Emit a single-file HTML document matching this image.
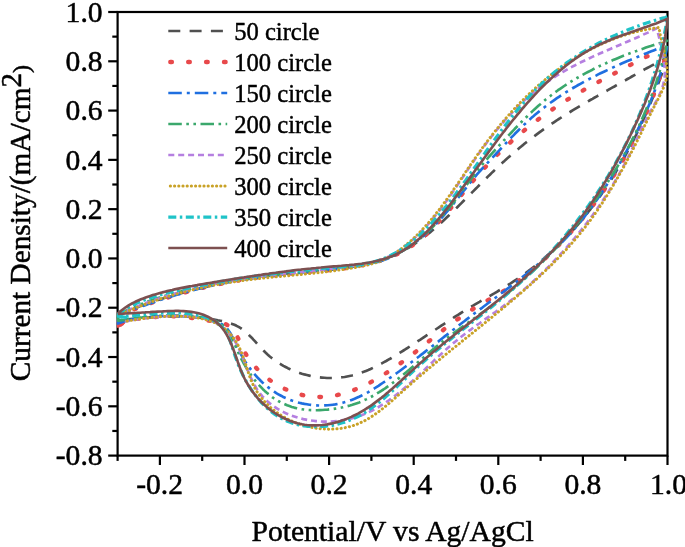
<!DOCTYPE html>
<html lang="en">
<head>
<meta charset="utf-8">
<title>CV curves</title>
<style>
html,body{margin:0;padding:0;background:#fff;}
body{width:685px;height:547px;overflow:hidden;font-family:"Liberation Serif",serif;}
svg{display:block;}
</style>
</head>
<body>
<svg width="685" height="547" viewBox="0 0 685 547">
<rect width="685" height="547" fill="#fff"/>
<defs><clipPath id="pc"><rect x="116.6" y="11.0" width="552.1999999999999" height="445.8"/></clipPath></defs>
<g stroke="#000" stroke-width="2.2" fill="none" stroke-linecap="butt">
<rect x="117.6" y="12.0" width="549.90" height="443.60"/>
<path d="M117.6 12.00h-9.4"/>
<path d="M117.6 36.64h-5.300000000000001"/>
<path d="M117.6 61.29h-9.4"/>
<path d="M117.6 85.93h-5.300000000000001"/>
<path d="M117.6 110.58h-9.4"/>
<path d="M117.6 135.22h-5.300000000000001"/>
<path d="M117.6 159.87h-9.4"/>
<path d="M117.6 184.51h-5.300000000000001"/>
<path d="M117.6 209.16h-9.4"/>
<path d="M117.6 233.80h-5.300000000000001"/>
<path d="M117.6 258.44h-9.4"/>
<path d="M117.6 283.09h-5.300000000000001"/>
<path d="M117.6 307.73h-9.4"/>
<path d="M117.6 332.38h-5.300000000000001"/>
<path d="M117.6 357.02h-9.4"/>
<path d="M117.6 381.67h-5.300000000000001"/>
<path d="M117.6 406.31h-9.4"/>
<path d="M117.6 430.96h-5.300000000000001"/>
<path d="M117.6 455.60h-9.4"/>
<path d="M117.60 455.6v5.300000000000001"/>
<path d="M159.90 455.6v9.4"/>
<path d="M202.20 455.6v5.300000000000001"/>
<path d="M244.50 455.6v9.4"/>
<path d="M286.80 455.6v5.300000000000001"/>
<path d="M329.10 455.6v9.4"/>
<path d="M371.40 455.6v5.300000000000001"/>
<path d="M413.70 455.6v9.4"/>
<path d="M456.00 455.6v5.300000000000001"/>
<path d="M498.30 455.6v9.4"/>
<path d="M540.60 455.6v5.300000000000001"/>
<path d="M582.90 455.6v9.4"/>
<path d="M625.20 455.6v5.300000000000001"/>
<path d="M667.50 455.6v9.4"/>
</g>
<g fill="none" stroke-linejoin="round" clip-path="url(#pc)">
<path d="M117.8 314.5L120.1 313.6L122.5 312.7L124.8 311.8L127.2 310.9L129.5 310.0L131.9 309.1L134.2 308.2L136.6 307.4L139.0 306.5L141.3 305.7L143.7 304.9L146.1 304.0L148.5 303.2L150.8 302.4L153.2 301.6L155.6 300.8L158.0 300.1L160.4 299.3L162.8 298.6L165.2 297.8L167.6 297.1L170.0 296.4L172.4 295.6L174.8 294.9L177.2 294.2L179.6 293.6L182.0 292.9L184.5 292.2L186.9 291.6L189.3 290.9L191.7 290.3L194.2 289.7L196.6 289.0L199.1 288.4L201.5 287.8L203.9 287.3L206.4 286.7L208.8 286.1L211.3 285.6L213.7 285.0L216.2 284.5L218.6 284.0L221.1 283.4L223.6 282.9L226.0 282.4L228.5 282.0L231.0 281.5L233.4 281.0L235.9 280.6L238.4 280.1L240.8 279.7L243.3 279.3L245.8 278.9L248.3 278.5L250.8 278.1L253.3 277.7L255.8 277.3L258.2 277.0L260.7 276.6L263.2 276.3L265.7 276.0L268.2 275.6L270.7 275.3L273.2 275.0L275.7 274.7L278.2 274.5L280.8 274.2L283.3 274.0L285.8 273.7L288.3 273.5L290.8 273.2L293.3 273.0L295.8 272.8L298.3 272.6L300.9 272.4L303.4 272.2L305.9 272.0L308.4 271.8L310.9 271.5L313.4 271.3L316.0 271.1L318.5 270.9L321.0 270.7L323.5 270.4L326.0 270.2L328.5 269.9L331.0 269.7L333.5 269.4L336.0 269.1L338.5 268.8L341.0 268.5L343.5 268.2L346.0 267.8L348.5 267.5L350.9 267.1L353.4 266.7L355.9 266.3L358.4 265.8L360.8 265.4L363.3 264.9L365.7 264.3L368.2 263.8L370.6 263.2L373.0 262.6L375.5 261.9L377.9 261.3L380.3 260.5L382.6 259.7L385.0 258.9L387.3 258.0L389.6 257.1L392.0 256.2L394.2 255.2L396.5 254.1L398.8 253.0L401.0 251.9L403.2 250.7L405.4 249.5L407.5 248.3L409.7 247.0L411.8 245.7L413.9 244.3L416.0 242.9L418.0 241.5L420.0 240.1L422.1 238.6L424.1 237.1L426.0 235.5L428.0 234.0L430.0 232.4L431.9 230.8L433.8 229.1L435.7 227.5L437.6 225.8L439.5 224.1L441.4 222.4L443.3 220.7L445.1 219.0L446.9 217.3L448.8 215.5L450.6 213.8L452.4 212.0L454.2 210.2L456.0 208.5L457.8 206.7L459.6 204.9L461.4 203.1L463.2 201.3L465.0 199.5L466.8 197.8L468.6 196.0L470.3 194.2L472.1 192.4L473.9 190.6L475.7 188.8L477.4 187.1L479.2 185.3L481.0 183.5L482.8 181.7L484.6 180.0L486.3 178.2L488.1 176.4L489.9 174.7L491.7 172.9L493.5 171.2L495.3 169.5L497.1 167.7L499.0 166.0L500.8 164.3L502.6 162.6L504.5 160.9L506.3 159.2L508.2 157.6L510.1 155.9L511.9 154.2L513.8 152.6L515.7 151.0L517.7 149.4L519.6 147.8L521.5 146.2L523.5 144.6L525.4 143.0L527.4 141.5L529.4 139.9L531.4 138.4L533.4 136.9L535.4 135.4L537.4 133.9L539.4 132.4L541.5 130.9L543.5 129.4L545.6 128.0L547.6 126.6L549.7 125.1L551.8 123.7L553.9 122.3L556.0 120.9L558.1 119.5L560.2 118.2L562.3 116.8L564.4 115.5L566.5 114.1L568.7 112.8L570.8 111.5L573.0 110.2L575.1 108.9L577.3 107.6L579.4 106.3L581.6 105.0L583.8 103.8L586.0 102.5L588.1 101.3L590.3 100.0L592.5 98.8L594.7 97.5L596.9 96.3L599.1 95.1L601.2 93.8L603.4 92.6L605.6 91.4L607.8 90.2L610.0 88.9L612.2 87.7L614.4 86.5L616.6 85.2L618.8 84.0L621.0 82.8L623.1 81.5L625.3 80.3L627.5 79.0L629.7 77.8L631.9 76.5L634.0 75.3L636.2 74.1L638.4 72.8L640.6 71.6L642.8 70.4L645.0 69.2L647.2 68.0L649.4 66.8L651.6 65.6L653.9 64.5L656.1 63.3L658.4 62.2L660.6 61.1L662.9 60.1L665.2 59.0L667.5 58.0L666.7 60.4L665.9 62.7L665.1 65.1L664.2 67.4L663.4 69.8L662.5 72.1L661.7 74.5L660.8 76.8L660.0 79.2L659.1 81.5L658.2 83.9L657.3 86.2L656.4 88.5L655.5 90.9L654.5 93.2L653.6 95.5L652.7 97.9L651.7 100.2L650.8 102.5L649.8 104.8L648.8 107.1L647.8 109.5L646.8 111.8L645.8 114.1L644.8 116.4L643.8 118.7L642.7 120.9L641.7 123.2L640.6 125.5L639.5 127.8L638.4 130.1L637.4 132.3L636.3 134.6L635.1 136.8L634.0 139.1L632.9 141.3L631.7 143.6L630.6 145.8L629.4 148.0L628.2 150.2L627.0 152.5L625.8 154.7L624.6 156.9L623.4 159.1L622.2 161.2L620.9 163.4L619.7 165.6L618.4 167.8L617.1 169.9L615.8 172.1L614.5 174.2L613.2 176.3L611.9 178.5L610.5 180.6L609.2 182.7L607.8 184.8L606.4 186.9L605.0 189.0L603.6 191.0L602.2 193.1L600.8 195.2L599.3 197.2L597.9 199.2L596.4 201.3L594.9 203.3L593.4 205.3L591.9 207.3L590.4 209.3L588.8 211.2L587.3 213.2L585.7 215.2L584.1 217.1L582.6 219.0L580.9 221.0L579.3 222.9L577.7 224.8L576.0 226.7L574.4 228.5L572.7 230.4L571.0 232.3L569.3 234.1L567.6 235.9L565.8 237.7L564.1 239.5L562.3 241.3L560.6 243.1L558.8 244.9L557.0 246.6L555.1 248.3L553.3 250.1L551.5 251.8L549.6 253.5L547.7 255.1L545.8 256.8L543.9 258.5L542.0 260.1L540.1 261.7L538.2 263.3L536.2 264.9L534.3 266.5L532.3 268.0L530.3 269.5L528.3 271.1L526.3 272.6L524.3 274.1L522.2 275.5L520.2 277.0L518.1 278.4L516.0 279.8L513.9 281.2L511.8 282.6L509.7 284.0L507.6 285.3L505.5 286.6L503.3 288.0L501.2 289.3L499.0 290.5L496.9 291.8L494.7 293.1L492.5 294.3L490.4 295.6L488.2 296.9L486.0 298.1L483.8 299.4L481.7 300.6L479.5 301.9L477.3 303.1L475.1 304.4L473.0 305.7L470.8 306.9L468.7 308.2L466.6 309.5L464.4 310.9L462.3 312.2L460.2 313.5L458.1 314.8L455.9 316.2L453.8 317.5L451.7 318.9L449.6 320.2L447.5 321.6L445.4 323.0L443.4 324.3L441.3 325.7L439.2 327.1L437.1 328.5L435.0 329.9L432.9 331.2L430.8 332.6L428.7 334.0L426.6 335.4L424.5 336.8L422.5 338.2L420.4 339.6L418.3 340.9L416.2 342.3L414.1 343.7L412.0 345.1L409.8 346.4L407.7 347.8L405.6 349.2L403.5 350.5L401.3 351.9L399.2 353.2L397.1 354.5L394.9 355.9L392.7 357.2L390.6 358.5L388.4 359.7L386.2 361.0L384.0 362.2L381.8 363.4L379.6 364.6L377.4 365.8L375.1 366.9L372.9 367.9L370.6 369.0L368.3 370.0L366.0 370.9L363.7 371.8L361.4 372.6L359.0 373.4L356.7 374.2L354.3 374.9L351.9 375.5L349.5 376.0L347.1 376.5L344.6 377.0L342.1 377.3L339.6 377.6L337.1 377.8L334.6 378.0L332.1 378.0L329.5 378.0L327.0 378.0L324.4 377.8L321.9 377.6L319.3 377.4L316.8 377.0L314.3 376.6L311.8 376.2L309.3 375.6L306.8 375.0L304.3 374.4L301.9 373.7L299.5 372.9L297.1 372.1L294.7 371.2L292.4 370.2L290.1 369.2L287.9 368.2L285.6 367.0L283.4 365.9L281.3 364.6L279.2 363.3L277.1 361.9L275.1 360.5L273.1 359.0L271.1 357.5L269.2 355.9L267.3 354.2L265.5 352.5L263.7 350.7L261.9 348.9L260.2 347.1L258.5 345.2L256.8 343.3L255.1 341.4L253.4 339.6L251.7 337.7L249.9 336.0L248.2 334.2L246.4 332.6L244.5 331.0L242.6 329.5L240.7 328.1L238.6 326.9L236.5 325.8L234.4 324.8L232.1 323.9L229.8 323.1L227.5 322.4L225.1 321.8L222.7 321.2L220.2 320.7L217.8 320.3L215.3 319.8L212.8 319.4L210.2 319.0L207.7 318.7L205.2 318.3L202.6 318.0L200.1 317.7L197.5 317.5L195.0 317.2L192.5 317.0L189.9 316.9L187.4 316.7L184.8 316.6L182.3 316.5L179.8 316.5L177.3 316.4L174.8 316.4L172.3 316.4L169.9 316.5L167.4 316.5L164.9 316.6L162.4 316.7L160.0 316.8L157.5 316.9L155.1 317.1L152.6 317.2L150.1 317.4L147.7 317.6L145.2 317.8L142.8 318.0L140.3 318.2L137.8 318.4L135.3 318.6L132.9 318.8L130.4 319.0L127.9 319.2L125.4 319.4L122.9 319.6L120.3 319.8L117.8 320.0L117.8 314.5" stroke="#505050" stroke-width="2.65" stroke-linecap="butt" stroke-dasharray="12 9.3"/>
<path d="M117.8 316.0L120.1 315.0L122.4 314.0L124.8 313.1L127.1 312.1L129.4 311.2L131.8 310.3L134.1 309.3L136.5 308.4L138.8 307.5L141.2 306.7L143.5 305.8L145.9 304.9L148.3 304.1L150.6 303.2L153.0 302.4L155.4 301.6L157.8 300.8L160.2 300.0L162.5 299.2L164.9 298.4L167.3 297.7L169.7 296.9L172.1 296.2L174.6 295.5L177.0 294.8L179.4 294.1L181.8 293.4L184.2 292.7L186.6 292.0L189.1 291.3L191.5 290.7L193.9 290.1L196.4 289.4L198.8 288.8L201.3 288.2L203.7 287.6L206.2 287.0L208.6 286.5L211.1 285.9L213.5 285.4L216.0 284.8L218.4 284.3L220.9 283.8L223.4 283.3L225.8 282.8L228.3 282.3L230.8 281.8L233.2 281.3L235.7 280.9L238.2 280.4L240.7 280.0L243.2 279.6L245.7 279.2L248.1 278.8L250.6 278.4L253.1 278.0L255.6 277.7L258.1 277.3L260.6 276.9L263.1 276.6L265.6 276.3L268.1 276.0L270.6 275.7L273.1 275.4L275.6 275.1L278.1 274.8L280.6 274.6L283.1 274.3L285.6 274.1L288.1 273.8L290.6 273.6L293.1 273.4L295.7 273.2L298.2 272.9L300.7 272.7L303.2 272.5L305.7 272.3L308.2 272.1L310.7 271.9L313.2 271.7L315.7 271.4L318.2 271.2L320.8 271.0L323.3 270.7L325.8 270.5L328.3 270.2L330.8 270.0L333.3 269.7L335.8 269.4L338.3 269.1L340.8 268.8L343.3 268.4L345.8 268.1L348.3 267.7L350.8 267.3L353.3 266.9L355.8 266.5L358.3 266.0L360.8 265.5L363.2 265.0L365.7 264.5L368.2 263.9L370.7 263.4L373.1 262.7L375.6 262.1L378.0 261.4L380.4 260.6L382.8 259.8L385.2 259.0L387.6 258.2L390.0 257.2L392.3 256.3L394.6 255.3L396.9 254.2L399.1 253.2L401.3 252.0L403.5 250.8L405.7 249.6L407.8 248.3L409.9 247.0L412.0 245.6L414.0 244.2L416.0 242.8L417.9 241.3L419.9 239.8L421.8 238.2L423.7 236.6L425.5 235.0L427.3 233.3L429.2 231.6L431.0 229.9L432.7 228.1L434.5 226.4L436.2 224.6L437.9 222.7L439.6 220.9L441.3 219.0L443.0 217.1L444.6 215.2L446.3 213.3L447.9 211.4L449.6 209.4L451.2 207.5L452.8 205.5L454.4 203.6L456.0 201.6L457.7 199.6L459.3 197.6L460.9 195.6L462.5 193.6L464.1 191.7L465.7 189.7L467.3 187.7L468.9 185.7L470.6 183.8L472.2 181.8L473.9 179.9L475.5 178.0L477.2 176.0L478.9 174.1L480.5 172.3L482.2 170.4L483.9 168.5L485.7 166.7L487.4 164.8L489.1 163.0L490.9 161.2L492.6 159.4L494.4 157.6L496.2 155.8L498.0 154.0L499.8 152.3L501.6 150.5L503.4 148.8L505.2 147.1L507.0 145.4L508.9 143.7L510.8 142.0L512.6 140.3L514.5 138.7L516.4 137.0L518.3 135.4L520.2 133.8L522.1 132.2L524.0 130.6L526.0 129.0L527.9 127.4L529.9 125.9L531.8 124.3L533.8 122.8L535.8 121.3L537.8 119.8L539.8 118.3L541.8 116.8L543.9 115.3L545.9 113.9L547.9 112.4L550.0 111.0L552.1 109.6L554.1 108.2L556.2 106.8L558.3 105.4L560.4 104.0L562.6 102.7L564.7 101.3L566.8 100.0L569.0 98.7L571.1 97.4L573.3 96.1L575.5 94.8L577.6 93.5L579.8 92.2L582.0 91.0L584.2 89.7L586.5 88.5L588.7 87.3L590.9 86.1L593.1 84.8L595.3 83.6L597.6 82.4L599.8 81.2L602.0 80.0L604.3 78.8L606.5 77.6L608.7 76.5L611.0 75.3L613.2 74.1L615.4 72.9L617.7 71.7L619.9 70.5L622.1 69.3L624.3 68.1L626.5 66.9L628.8 65.7L631.0 64.6L633.2 63.4L635.4 62.2L637.7 61.1L639.9 59.9L642.1 58.8L644.4 57.7L646.6 56.6L648.9 55.6L651.2 54.5L653.5 53.5L655.8 52.5L658.1 51.5L660.4 50.6L662.8 49.7L665.1 48.8L667.5 48.0L666.9 50.4L666.4 52.9L665.8 55.3L665.2 57.8L664.5 60.2L663.9 62.6L663.2 65.0L662.6 67.4L661.9 69.9L661.2 72.3L660.4 74.7L659.7 77.1L658.9 79.5L658.2 81.8L657.4 84.2L656.6 86.6L655.8 89.0L654.9 91.3L654.1 93.7L653.2 96.1L652.4 98.4L651.5 100.8L650.6 103.1L649.6 105.5L648.7 107.8L647.8 110.1L646.8 112.4L645.8 114.7L644.8 117.1L643.8 119.4L642.8 121.7L641.7 123.9L640.7 126.2L639.6 128.5L638.5 130.8L637.4 133.1L636.3 135.3L635.2 137.6L634.1 139.8L632.9 142.1L631.8 144.3L630.6 146.5L629.4 148.7L628.2 151.0L627.0 153.2L625.7 155.4L624.5 157.5L623.3 159.7L622.0 161.9L620.7 164.1L619.4 166.2L618.1 168.4L616.8 170.5L615.5 172.7L614.1 174.8L612.8 176.9L611.4 179.1L610.0 181.2L608.6 183.3L607.2 185.4L605.8 187.4L604.4 189.5L602.9 191.6L601.5 193.6L600.0 195.7L598.5 197.7L597.0 199.8L595.5 201.8L594.0 203.8L592.5 205.8L591.0 207.8L589.4 209.8L587.9 211.8L586.3 213.7L584.7 215.7L583.2 217.6L581.6 219.6L579.9 221.5L578.3 223.4L576.7 225.4L575.1 227.3L573.4 229.2L571.8 231.0L570.1 232.9L568.4 234.8L566.7 236.6L565.0 238.5L563.3 240.3L561.6 242.1L559.9 243.9L558.1 245.7L556.4 247.5L554.6 249.3L552.8 251.1L551.1 252.8L549.3 254.6L547.5 256.3L545.7 258.0L543.8 259.7L542.0 261.4L540.1 263.1L538.3 264.8L536.4 266.4L534.5 268.0L532.6 269.7L530.7 271.3L528.7 272.9L526.8 274.4L524.8 276.0L522.9 277.5L520.9 279.0L518.8 280.5L516.8 282.0L514.8 283.5L512.7 284.9L510.6 286.4L508.5 287.8L506.4 289.2L504.3 290.6L502.1 291.9L499.9 293.2L497.7 294.6L495.5 295.9L493.3 297.2L491.1 298.4L488.9 299.7L486.7 301.0L484.5 302.3L482.2 303.6L480.0 304.8L477.8 306.1L475.7 307.4L473.5 308.7L471.3 310.1L469.2 311.4L467.1 312.8L465.0 314.2L463.0 315.6L460.9 317.0L458.9 318.4L456.8 319.8L454.8 321.3L452.8 322.7L450.8 324.2L448.9 325.7L446.9 327.2L444.9 328.6L443.0 330.2L441.0 331.7L439.1 333.2L437.2 334.7L435.2 336.2L433.3 337.8L431.3 339.3L429.4 340.8L427.5 342.4L425.5 343.9L423.6 345.5L421.6 347.0L419.7 348.6L417.7 350.1L415.8 351.7L413.8 353.2L411.8 354.7L409.8 356.3L407.8 357.8L405.8 359.3L403.7 360.8L401.7 362.4L399.6 363.9L397.5 365.4L395.4 366.8L393.3 368.3L391.2 369.8L389.0 371.2L386.9 372.6L384.7 374.0L382.5 375.4L380.3 376.8L378.1 378.1L375.8 379.4L373.6 380.7L371.3 381.9L369.1 383.1L366.8 384.3L364.5 385.4L362.2 386.5L359.9 387.5L357.5 388.6L355.2 389.5L352.9 390.4L350.5 391.3L348.2 392.1L345.8 392.8L343.4 393.5L341.0 394.2L338.7 394.7L336.3 395.3L333.9 395.7L331.5 396.1L329.0 396.4L326.6 396.7L324.2 396.8L321.8 396.9L319.3 397.0L316.9 396.9L314.5 396.8L312.0 396.6L309.6 396.3L307.2 395.9L304.7 395.5L302.3 395.0L299.9 394.4L297.5 393.7L295.1 393.0L292.7 392.2L290.4 391.3L288.0 390.3L285.7 389.3L283.4 388.3L281.2 387.1L279.0 385.9L276.8 384.6L274.6 383.3L272.5 381.9L270.4 380.5L268.3 378.9L266.3 377.4L264.3 375.7L262.4 374.1L260.5 372.3L258.7 370.5L256.9 368.7L255.2 366.8L253.5 364.9L251.9 362.9L250.4 360.9L248.9 358.8L247.5 356.7L246.1 354.5L244.9 352.3L243.7 350.0L242.5 347.7L241.4 345.4L240.4 343.1L239.3 340.8L238.2 338.6L237.1 336.4L235.9 334.3L234.7 332.3L233.3 330.4L231.8 328.6L230.1 327.0L228.3 325.6L226.3 324.4L224.1 323.4L221.6 322.6L218.9 322.1L216.2 321.6L213.3 321.3L210.5 320.9L207.8 320.6L205.1 320.2L202.5 319.8L199.9 319.3L197.5 318.9L195.0 318.4L192.6 318.0L190.2 317.6L187.8 317.3L185.4 316.9L183.0 316.7L180.6 316.5L178.2 316.4L175.7 316.3L173.3 316.2L170.8 316.2L168.3 316.3L165.9 316.3L163.4 316.5L160.9 316.6L158.4 316.8L155.8 317.0L153.3 317.2L150.8 317.4L148.2 317.7L145.7 318.0L143.1 318.2L140.6 318.5L138.0 318.8L135.5 319.2L133.0 319.6L130.5 320.1L128.2 320.7L125.9 321.5L123.6 322.5L121.6 323.7L119.6 325.2L117.8 327.0L118.2 316.0" stroke="#e8494b" stroke-width="4.4" stroke-linecap="round" stroke-dasharray="1.6 16.3"/>
<path d="M117.8 315.5L120.1 314.6L122.5 313.7L124.8 312.7L127.1 311.8L129.5 310.9L131.8 310.1L134.2 309.2L136.5 308.3L138.9 307.4L141.2 306.6L143.6 305.7L145.9 304.9L148.3 304.1L150.7 303.2L153.0 302.4L155.4 301.6L157.8 300.8L160.2 300.0L162.6 299.3L165.0 298.5L167.3 297.7L169.7 297.0L172.1 296.2L174.5 295.5L176.9 294.8L179.4 294.1L181.8 293.4L184.2 292.7L186.6 292.0L189.0 291.4L191.4 290.7L193.9 290.1L196.3 289.4L198.7 288.8L201.2 288.2L203.6 287.6L206.0 287.0L208.5 286.4L210.9 285.9L213.4 285.3L215.8 284.8L218.3 284.3L220.7 283.8L223.2 283.3L225.6 282.8L228.1 282.3L230.6 281.9L233.0 281.4L235.5 281.0L238.0 280.6L240.5 280.1L242.9 279.8L245.4 279.4L247.9 279.0L250.4 278.6L252.9 278.3L255.4 277.9L257.8 277.6L260.3 277.3L262.8 276.9L265.3 276.6L267.8 276.3L270.3 276.0L272.8 275.7L275.3 275.4L277.8 275.1L280.3 274.9L282.8 274.6L285.3 274.3L287.8 274.0L290.3 273.8L292.8 273.5L295.3 273.2L297.8 273.0L300.3 272.7L302.8 272.5L305.3 272.2L307.8 271.9L310.3 271.7L312.8 271.4L315.3 271.1L317.8 270.9L320.3 270.6L322.8 270.3L325.3 270.1L327.8 269.8L330.3 269.5L332.8 269.2L335.3 268.9L337.8 268.6L340.3 268.3L342.8 268.0L345.3 267.7L347.7 267.3L350.2 267.0L352.7 266.6L355.2 266.3L357.7 265.9L360.1 265.5L362.6 265.2L365.1 264.7L367.5 264.3L370.0 263.8L372.4 263.3L374.9 262.8L377.3 262.1L379.6 261.4L382.0 260.7L384.4 259.8L386.7 258.9L389.0 258.0L391.3 256.9L393.5 255.8L395.8 254.7L398.0 253.5L400.2 252.3L402.3 251.0L404.5 249.7L406.6 248.3L408.7 246.9L410.8 245.5L412.9 244.1L414.9 242.6L416.9 241.1L418.9 239.5L420.9 238.0L422.8 236.4L424.7 234.7L426.6 233.1L428.4 231.4L430.2 229.7L432.0 227.9L433.8 226.2L435.6 224.4L437.3 222.6L439.0 220.7L440.7 218.9L442.3 217.0L444.0 215.1L445.6 213.2L447.2 211.3L448.8 209.4L450.4 207.5L452.0 205.5L453.6 203.6L455.1 201.6L456.7 199.6L458.3 197.7L459.8 195.7L461.4 193.7L462.9 191.7L464.5 189.8L466.1 187.8L467.6 185.8L469.2 183.9L470.8 181.9L472.4 180.0L474.0 178.0L475.6 176.1L477.2 174.2L478.8 172.3L480.5 170.5L482.2 168.6L483.9 166.7L485.6 164.9L487.3 163.1L489.0 161.3L490.7 159.4L492.4 157.6L494.2 155.8L495.9 154.0L497.6 152.1L499.3 150.3L501.0 148.5L502.8 146.6L504.5 144.8L506.2 142.9L508.0 141.1L509.7 139.3L511.4 137.4L513.2 135.6L514.9 133.8L516.7 132.0L518.5 130.2L520.3 128.4L522.1 126.7L523.9 124.9L525.7 123.2L527.5 121.5L529.4 119.8L531.2 118.1L533.1 116.5L535.0 114.8L536.9 113.2L538.9 111.6L540.8 110.0L542.8 108.5L544.8 107.0L546.7 105.5L548.8 104.0L550.8 102.5L552.8 101.1L554.9 99.6L556.9 98.2L559.0 96.8L561.1 95.4L563.2 94.1L565.3 92.7L567.4 91.4L569.6 90.1L571.7 88.8L573.9 87.5L576.0 86.3L578.2 85.0L580.4 83.8L582.6 82.6L584.8 81.4L587.0 80.2L589.3 79.0L591.5 77.9L593.7 76.7L596.0 75.6L598.2 74.4L600.5 73.3L602.8 72.2L605.0 71.2L607.3 70.1L609.6 69.0L611.9 68.0L614.2 66.9L616.5 65.9L618.8 64.9L621.1 63.8L623.4 62.8L625.7 61.8L628.0 60.8L630.3 59.9L632.7 58.9L635.0 57.9L637.3 57.0L639.6 56.0L642.0 55.1L644.3 54.1L646.6 53.2L648.9 52.3L651.3 51.3L653.6 50.4L655.9 49.5L658.2 48.6L660.6 47.7L662.9 46.8L665.2 45.9L667.5 45.0L667.0 47.5L666.5 50.0L666.0 52.5L665.4 55.0L664.8 57.4L664.2 59.9L663.6 62.3L663.0 64.8L662.3 67.2L661.6 69.6L660.9 72.0L660.2 74.4L659.5 76.8L658.7 79.2L657.9 81.6L657.1 83.9L656.3 86.3L655.5 88.7L654.6 91.0L653.7 93.3L652.8 95.7L651.9 98.0L651.0 100.3L650.1 102.6L649.1 104.9L648.1 107.2L647.2 109.5L646.2 111.8L645.1 114.1L644.1 116.3L643.1 118.6L642.0 120.9L641.0 123.1L639.9 125.4L638.8 127.6L637.7 129.9L636.6 132.1L635.4 134.4L634.3 136.6L633.1 138.8L632.0 141.0L630.8 143.3L629.6 145.5L628.4 147.7L627.2 149.9L626.0 152.1L624.8 154.3L623.6 156.5L622.3 158.7L621.1 160.9L619.9 163.1L618.6 165.3L617.3 167.5L616.0 169.7L614.8 171.9L613.5 174.0L612.2 176.2L610.8 178.4L609.5 180.5L608.2 182.7L606.8 184.8L605.5 186.9L604.1 189.1L602.7 191.2L601.3 193.3L599.9 195.4L598.5 197.5L597.1 199.5L595.6 201.6L594.2 203.7L592.7 205.7L591.2 207.7L589.7 209.8L588.2 211.8L586.7 213.8L585.2 215.8L583.6 217.7L582.0 219.7L580.5 221.6L578.9 223.6L577.3 225.5L575.6 227.4L574.0 229.3L572.3 231.1L570.7 233.0L569.0 234.8L567.3 236.7L565.5 238.5L563.8 240.3L562.1 242.0L560.3 243.8L558.5 245.6L556.7 247.3L554.9 249.0L553.1 250.7L551.3 252.4L549.5 254.1L547.6 255.8L545.8 257.5L543.9 259.1L542.0 260.8L540.1 262.4L538.2 264.1L536.3 265.7L534.4 267.3L532.5 268.9L530.5 270.5L528.6 272.1L526.7 273.7L524.7 275.2L522.7 276.8L520.8 278.4L518.8 279.9L516.8 281.5L514.8 283.0L512.8 284.5L510.8 286.1L508.9 287.6L506.9 289.1L504.8 290.7L502.8 292.2L500.8 293.7L498.8 295.2L496.8 296.7L494.8 298.2L492.8 299.7L490.7 301.3L488.7 302.8L486.7 304.3L484.7 305.8L482.7 307.3L480.6 308.8L478.6 310.3L476.6 311.8L474.6 313.3L472.6 314.9L470.6 316.4L468.6 317.9L466.6 319.4L464.6 321.0L462.6 322.5L460.6 324.0L458.6 325.6L456.6 327.1L454.6 328.7L452.6 330.2L450.7 331.8L448.7 333.3L446.7 334.9L444.7 336.4L442.7 338.0L440.8 339.5L438.8 341.1L436.8 342.6L434.8 344.2L432.9 345.7L430.9 347.3L428.9 348.8L426.9 350.3L424.9 351.9L423.0 353.4L421.0 354.9L419.0 356.5L417.0 358.0L415.0 359.5L413.0 361.0L411.0 362.5L409.0 364.1L407.0 365.6L405.0 367.0L403.0 368.5L401.0 370.0L399.0 371.5L396.9 373.0L394.9 374.4L392.9 375.9L390.8 377.3L388.8 378.8L386.7 380.2L384.7 381.6L382.6 383.0L380.5 384.4L378.5 385.8L376.4 387.1L374.3 388.5L372.1 389.8L370.0 391.0L367.9 392.3L365.7 393.5L363.5 394.6L361.3 395.7L359.1 396.8L356.8 397.8L354.6 398.8L352.3 399.7L349.9 400.6L347.6 401.4L345.2 402.1L342.8 402.8L340.4 403.4L337.9 403.9L335.4 404.4L332.9 404.7L330.4 405.0L327.8 405.3L325.2 405.4L322.6 405.5L320.0 405.5L317.4 405.4L314.7 405.2L312.1 405.0L309.5 404.7L306.9 404.3L304.4 403.9L301.8 403.4L299.3 402.8L296.8 402.1L294.4 401.4L291.9 400.6L289.6 399.7L287.3 398.7L285.0 397.7L282.8 396.7L280.6 395.5L278.4 394.3L276.3 393.1L274.2 391.7L272.2 390.4L270.2 388.9L268.3 387.4L266.4 385.9L264.5 384.3L262.7 382.7L260.9 381.0L259.2 379.2L257.5 377.5L255.8 375.6L254.2 373.8L252.6 371.8L251.1 369.9L249.6 367.9L248.1 365.9L246.7 363.8L245.3 361.7L244.0 359.6L242.7 357.4L241.4 355.2L240.2 353.0L239.0 350.8L237.8 348.5L236.7 346.2L235.6 343.9L234.6 341.6L233.5 339.2L232.4 337.0L231.3 334.8L230.1 332.7L228.7 330.7L227.3 328.8L225.7 327.1L223.9 325.6L221.9 324.2L219.8 323.1L217.6 322.0L215.3 321.1L212.9 320.4L210.4 319.7L207.9 319.1L205.3 318.6L202.8 318.2L200.2 317.8L197.6 317.5L194.9 317.2L192.3 317.0L189.7 316.8L187.1 316.6L184.5 316.5L181.9 316.3L179.4 316.2L176.8 316.1L174.3 316.1L171.7 316.0L169.2 316.0L166.7 316.0L164.2 316.0L161.8 316.1L159.3 316.2L156.8 316.3L154.4 316.4L151.9 316.6L149.5 316.8L147.1 317.1L144.6 317.3L142.2 317.7L139.8 318.1L137.3 318.5L134.9 318.9L132.5 319.4L130.0 320.0L127.6 320.6L125.2 321.2L122.7 321.9L120.3 322.7L117.8 323.5L118.2 315.5" stroke="#1f6fe0" stroke-width="2.65" stroke-linecap="butt" stroke-dasharray="13.5 5 3 5"/>
<path d="M117.8 314.5L120.1 313.4L122.3 312.3L124.6 311.2L126.9 310.2L129.2 309.2L131.5 308.2L133.8 307.2L136.1 306.2L138.4 305.2L140.8 304.3L143.1 303.4L145.5 302.5L147.8 301.6L150.2 300.8L152.5 299.9L154.9 299.1L157.3 298.3L159.7 297.5L162.1 296.8L164.5 296.0L166.9 295.3L169.3 294.5L171.7 293.8L174.1 293.1L176.5 292.5L179.0 291.8L181.4 291.2L183.8 290.5L186.3 289.9L188.7 289.3L191.2 288.7L193.6 288.1L196.1 287.6L198.5 287.0L201.0 286.5L203.5 285.9L205.9 285.4L208.4 284.9L210.9 284.4L213.3 283.9L215.8 283.5L218.3 283.0L220.8 282.6L223.3 282.1L225.8 281.7L228.2 281.3L230.7 280.9L233.2 280.5L235.7 280.1L238.2 279.7L240.7 279.3L243.2 278.9L245.7 278.6L248.2 278.2L250.6 277.9L253.1 277.5L255.6 277.2L258.1 276.9L260.6 276.6L263.1 276.2L265.6 275.9L268.1 275.6L270.6 275.3L273.1 275.0L275.6 274.7L278.1 274.4L280.6 274.1L283.1 273.8L285.6 273.6L288.1 273.3L290.6 273.0L293.1 272.7L295.6 272.4L298.1 272.2L300.6 271.9L303.1 271.6L305.6 271.3L308.1 271.0L310.6 270.8L313.1 270.5L315.6 270.2L318.1 269.9L320.6 269.6L323.1 269.3L325.6 269.0L328.1 268.7L330.6 268.4L333.1 268.1L335.6 267.8L338.1 267.5L340.6 267.2L343.1 266.9L345.5 266.5L348.0 266.2L350.5 265.8L353.0 265.5L355.5 265.1L358.0 264.8L360.5 264.4L363.0 264.0L365.4 263.6L367.9 263.2L370.4 262.7L372.8 262.3L375.3 261.7L377.7 261.1L380.1 260.5L382.5 259.8L384.9 259.0L387.2 258.2L389.6 257.3L391.9 256.3L394.2 255.3L396.4 254.2L398.7 253.1L400.9 251.9L403.1 250.7L405.2 249.4L407.4 248.0L409.5 246.6L411.5 245.2L413.6 243.7L415.6 242.2L417.6 240.7L419.5 239.1L421.5 237.4L423.4 235.8L425.3 234.1L427.1 232.4L428.9 230.6L430.7 228.8L432.5 227.0L434.3 225.2L436.0 223.4L437.7 221.5L439.3 219.6L441.0 217.7L442.6 215.8L444.3 213.9L445.9 212.0L447.5 210.0L449.0 208.0L450.6 206.1L452.1 204.1L453.7 202.1L455.2 200.1L456.7 198.1L458.3 196.1L459.8 194.1L461.3 192.0L462.8 190.0L464.3 188.0L465.8 186.0L467.3 184.0L468.8 181.9L470.3 179.9L471.8 177.9L473.4 175.9L474.9 173.9L476.4 172.0L478.0 170.0L479.5 168.0L481.1 166.1L482.7 164.1L484.3 162.2L485.9 160.3L487.6 158.4L489.2 156.5L490.9 154.7L492.5 152.8L494.2 151.0L495.9 149.1L497.6 147.3L499.3 145.4L501.0 143.6L502.7 141.7L504.4 139.9L506.2 138.0L507.9 136.2L509.6 134.4L511.4 132.5L513.1 130.7L514.8 128.8L516.6 127.0L518.4 125.2L520.1 123.4L521.9 121.5L523.7 119.7L525.5 118.0L527.3 116.2L529.1 114.4L530.9 112.7L532.8 110.9L534.6 109.2L536.5 107.5L538.4 105.8L540.3 104.2L542.2 102.5L544.1 100.9L546.0 99.3L548.0 97.7L550.0 96.2L552.0 94.7L554.0 93.1L556.0 91.7L558.0 90.2L560.1 88.8L562.2 87.4L564.2 86.0L566.3 84.6L568.4 83.2L570.5 81.9L572.7 80.6L574.8 79.3L577.0 78.0L579.1 76.8L581.3 75.5L583.5 74.3L585.7 73.1L587.9 72.0L590.2 70.8L592.4 69.7L594.6 68.5L596.9 67.4L599.1 66.3L601.4 65.3L603.7 64.2L606.0 63.2L608.3 62.1L610.6 61.1L612.9 60.1L615.2 59.2L617.6 58.2L619.9 57.2L622.2 56.3L624.6 55.4L626.9 54.5L629.3 53.6L631.6 52.7L634.0 51.8L636.4 51.0L638.8 50.1L641.1 49.3L643.5 48.5L645.9 47.6L648.3 46.8L650.7 46.1L653.1 45.3L655.5 44.5L657.9 43.7L660.3 43.0L662.7 42.3L665.1 41.5L667.5 40.8L667.0 43.3L666.4 45.7L665.9 48.2L665.3 50.6L664.7 53.0L664.1 55.5L663.5 57.9L662.8 60.3L662.2 62.8L661.5 65.2L660.8 67.6L660.1 70.0L659.4 72.4L658.7 74.8L657.9 77.2L657.1 79.6L656.4 81.9L655.6 84.3L654.8 86.7L653.9 89.1L653.1 91.4L652.3 93.8L651.4 96.1L650.5 98.5L649.6 100.8L648.7 103.2L647.8 105.5L646.8 107.8L645.9 110.1L644.9 112.4L643.9 114.7L642.9 117.0L641.9 119.3L640.9 121.6L639.9 123.9L638.8 126.2L637.8 128.5L636.7 130.7L635.6 133.0L634.5 135.2L633.4 137.5L632.2 139.7L631.1 142.0L630.0 144.2L628.8 146.4L627.6 148.6L626.4 150.8L625.2 153.0L624.0 155.2L622.8 157.4L621.5 159.6L620.3 161.8L619.0 163.9L617.7 166.1L616.4 168.3L615.1 170.4L613.8 172.5L612.5 174.7L611.1 176.8L609.8 178.9L608.4 181.0L607.1 183.1L605.7 185.2L604.3 187.3L602.9 189.4L601.5 191.5L600.0 193.5L598.6 195.6L597.1 197.7L595.7 199.7L594.2 201.7L592.7 203.8L591.2 205.8L589.7 207.8L588.2 209.8L586.7 211.8L585.2 213.8L583.6 215.8L582.1 217.7L580.5 219.7L578.9 221.7L577.3 223.6L575.7 225.6L574.1 227.5L572.5 229.4L570.9 231.3L569.3 233.2L567.6 235.1L566.0 237.0L564.3 238.9L562.6 240.8L561.0 242.6L559.3 244.5L557.6 246.3L555.9 248.2L554.2 250.0L552.4 251.8L550.7 253.6L549.0 255.4L547.2 257.2L545.4 259.0L543.7 260.8L541.9 262.5L540.1 264.3L538.3 266.0L536.5 267.8L534.7 269.5L532.9 271.2L531.0 272.9L529.2 274.6L527.3 276.3L525.5 278.0L523.6 279.7L521.7 281.3L519.8 283.0L518.0 284.6L516.0 286.2L514.1 287.9L512.2 289.5L510.3 291.1L508.4 292.7L506.4 294.2L504.5 295.8L502.5 297.4L500.5 298.9L498.5 300.5L496.6 302.0L494.6 303.5L492.6 305.0L490.5 306.5L488.5 308.0L486.5 309.5L484.5 311.0L482.4 312.5L480.4 313.9L478.3 315.4L476.3 316.8L474.2 318.3L472.2 319.8L470.1 321.2L468.1 322.7L466.0 324.1L464.0 325.6L461.9 327.0L459.9 328.5L457.9 330.0L455.8 331.5L453.8 333.0L451.8 334.4L449.8 336.0L447.8 337.5L445.8 339.0L443.8 340.5L441.9 342.1L439.9 343.7L438.0 345.3L436.0 346.8L434.1 348.5L432.2 350.1L430.3 351.7L428.4 353.3L426.5 354.9L424.6 356.6L422.7 358.2L420.8 359.9L418.9 361.5L417.0 363.1L415.1 364.8L413.1 366.4L411.2 368.0L409.3 369.7L407.4 371.3L405.5 372.9L403.5 374.5L401.6 376.0L399.6 377.6L397.6 379.2L395.6 380.7L393.6 382.2L391.6 383.7L389.6 385.2L387.5 386.6L385.5 388.1L383.4 389.5L381.3 390.8L379.2 392.2L377.0 393.5L374.9 394.8L372.7 396.0L370.5 397.2L368.3 398.3L366.1 399.4L363.8 400.4L361.6 401.4L359.3 402.4L357.0 403.2L354.7 404.0L352.4 404.8L350.0 405.5L347.6 406.1L345.2 406.7L342.8 407.3L340.3 407.8L337.9 408.2L335.4 408.6L332.8 409.0L330.2 409.3L327.7 409.6L325.0 409.8L322.4 410.0L319.8 410.1L317.2 410.2L314.5 410.2L311.9 410.1L309.3 410.0L306.7 409.8L304.1 409.5L301.6 409.2L299.1 408.7L296.6 408.2L294.2 407.6L291.8 406.9L289.4 406.1L287.1 405.3L284.9 404.3L282.6 403.3L280.5 402.2L278.3 401.0L276.3 399.8L274.2 398.5L272.2 397.1L270.3 395.6L268.4 394.1L266.5 392.5L264.7 390.9L262.9 389.2L261.2 387.4L259.5 385.6L257.8 383.8L256.2 381.9L254.6 379.9L253.1 377.9L251.6 375.9L250.2 373.8L248.7 371.7L247.4 369.6L246.0 367.4L244.8 365.2L243.5 363.0L242.3 360.7L241.1 358.5L240.0 356.2L238.9 353.9L237.8 351.5L236.8 349.2L235.8 346.9L234.8 344.5L233.8 342.2L232.8 340.0L231.8 337.7L230.7 335.6L229.5 333.5L228.3 331.5L226.9 329.7L225.4 327.9L223.8 326.3L222.0 324.8L220.0 323.5L218.0 322.3L215.8 321.2L213.6 320.3L211.2 319.4L208.8 318.7L206.3 318.1L203.7 317.5L201.1 317.0L198.5 316.7L195.8 316.3L193.2 316.1L190.5 315.9L187.8 315.7L185.1 315.6L182.5 315.5L179.9 315.5L177.3 315.4L174.8 315.4L172.2 315.4L169.7 315.5L167.2 315.6L164.7 315.7L162.3 315.8L159.8 315.9L157.4 316.1L154.9 316.2L152.5 316.4L150.1 316.6L147.6 316.9L145.2 317.1L142.7 317.4L140.3 317.6L137.9 317.9L135.4 318.2L132.9 318.5L130.5 318.8L128.0 319.2L125.5 319.5L122.9 319.8L120.4 320.2L117.8 320.5L118.2 314.5" stroke="#3ba86c" stroke-width="2.65" stroke-linecap="butt" stroke-dasharray="13.5 4.5 2.6 4.5 2.6 4.5"/>
<path d="M117.8 315.0L120.1 313.9L122.4 312.9L124.6 311.8L126.9 310.8L129.2 309.8L131.6 308.8L133.9 307.8L136.2 306.9L138.5 305.9L140.9 305.0L143.2 304.1L145.5 303.2L147.9 302.3L150.3 301.5L152.6 300.6L155.0 299.8L157.4 299.0L159.8 298.2L162.1 297.4L164.5 296.7L166.9 295.9L169.3 295.2L171.7 294.4L174.2 293.7L176.6 293.0L179.0 292.4L181.4 291.7L183.9 291.0L186.3 290.4L188.7 289.8L191.2 289.2L193.6 288.6L196.1 288.0L198.5 287.4L201.0 286.8L203.4 286.3L205.9 285.8L208.3 285.2L210.8 284.7L213.3 284.2L215.8 283.7L218.2 283.3L220.7 282.8L223.2 282.3L225.7 281.9L228.1 281.5L230.6 281.1L233.1 280.6L235.6 280.2L238.1 279.9L240.6 279.5L243.1 279.1L245.6 278.7L248.0 278.4L250.5 278.1L253.0 277.7L255.5 277.4L258.0 277.1L260.5 276.8L263.0 276.4L265.5 276.1L268.0 275.8L270.5 275.5L273.0 275.3L275.5 275.0L278.0 274.7L280.5 274.4L283.0 274.1L285.5 273.9L288.0 273.6L290.6 273.3L293.1 273.1L295.6 272.8L298.1 272.5L300.6 272.2L303.1 272.0L305.6 271.7L308.1 271.4L310.6 271.2L313.1 270.9L315.6 270.6L318.1 270.3L320.6 270.1L323.1 269.8L325.6 269.5L328.1 269.2L330.6 268.9L333.1 268.6L335.6 268.3L338.0 268.0L340.5 267.7L343.0 267.3L345.5 267.0L348.0 266.7L350.5 266.3L353.0 265.9L355.5 265.6L357.9 265.2L360.4 264.8L362.9 264.4L365.4 264.0L367.8 263.6L370.3 263.1L372.7 262.5L375.1 261.9L377.5 261.2L379.9 260.4L382.2 259.6L384.5 258.6L386.8 257.6L389.0 256.5L391.2 255.3L393.4 254.1L395.6 252.7L397.7 251.4L399.8 250.0L401.8 248.5L403.9 247.0L405.8 245.5L407.8 243.9L409.7 242.3L411.6 240.7L413.5 239.0L415.4 237.3L417.2 235.6L419.0 233.9L420.7 232.1L422.5 230.3L424.2 228.5L425.9 226.7L427.6 224.8L429.2 223.0L430.9 221.1L432.5 219.2L434.1 217.2L435.6 215.3L437.2 213.3L438.7 211.4L440.3 209.4L441.8 207.4L443.3 205.3L444.8 203.3L446.3 201.3L447.7 199.2L449.2 197.1L450.7 195.1L452.1 193.0L453.5 190.9L455.0 188.8L456.4 186.7L457.8 184.6L459.2 182.5L460.6 180.4L462.1 178.3L463.5 176.2L464.9 174.0L466.3 171.9L467.7 169.8L469.1 167.7L470.6 165.6L472.0 163.5L473.4 161.4L474.9 159.3L476.3 157.2L477.8 155.1L479.2 153.0L480.7 151.0L482.2 148.9L483.7 146.8L485.2 144.8L486.7 142.8L488.2 140.8L489.8 138.7L491.3 136.8L492.9 134.8L494.4 132.8L496.0 130.8L497.6 128.9L499.2 127.0L500.9 125.0L502.5 123.1L504.1 121.2L505.8 119.4L507.5 117.5L509.2 115.7L510.9 113.8L512.6 112.0L514.3 110.2L516.1 108.4L517.8 106.7L519.6 104.9L521.4 103.2L523.2 101.5L525.1 99.8L526.9 98.1L528.8 96.5L530.6 94.9L532.5 93.2L534.4 91.7L536.4 90.1L538.3 88.5L540.3 87.0L542.2 85.5L544.2 84.1L546.3 82.6L548.3 81.2L550.4 79.8L552.4 78.4L554.5 77.0L556.6 75.7L558.8 74.4L560.9 73.1L563.1 71.8L565.2 70.6L567.4 69.3L569.6 68.1L571.8 66.9L574.1 65.8L576.3 64.6L578.6 63.5L580.8 62.3L583.1 61.2L585.4 60.1L587.7 59.0L590.0 58.0L592.3 56.9L594.6 55.8L596.9 54.8L599.2 53.8L601.6 52.7L603.9 51.7L606.2 50.7L608.6 49.7L610.9 48.7L613.2 47.7L615.6 46.7L617.9 45.7L620.2 44.7L622.6 43.7L624.9 42.7L627.2 41.7L629.5 40.7L631.9 39.7L634.2 38.7L636.5 37.7L638.8 36.7L641.1 35.7L643.3 34.6L645.6 33.6L647.9 32.6L650.1 31.5L652.4 30.4L654.6 29.4L656.8 28.3L657.4 30.7L658.0 33.1L658.6 35.5L659.2 38.0L659.8 40.4L660.4 42.9L661.1 45.4L661.6 47.9L662.2 50.4L662.7 52.9L663.2 55.4L663.7 57.9L664.1 60.4L664.4 62.9L664.6 65.3L664.8 67.8L664.9 70.3L664.9 72.7L664.8 75.2L664.6 77.6L664.2 80.0L663.8 82.4L663.2 84.7L662.5 87.0L661.7 89.4L660.8 91.7L659.8 93.9L658.7 96.2L657.6 98.5L656.5 100.7L655.3 102.9L654.0 105.2L652.8 107.4L651.5 109.7L650.3 111.9L649.1 114.2L647.9 116.4L646.7 118.7L645.6 120.9L644.4 123.2L643.3 125.5L642.2 127.7L641.1 130.0L640.0 132.3L639.0 134.6L637.9 136.8L636.8 139.1L635.7 141.4L634.7 143.6L633.6 145.9L632.5 148.2L631.4 150.4L630.4 152.7L629.3 154.9L628.1 157.2L627.0 159.4L625.9 161.6L624.7 163.8L623.5 166.0L622.3 168.2L621.1 170.4L619.9 172.6L618.7 174.8L617.4 177.0L616.2 179.1L614.9 181.3L613.6 183.4L612.3 185.6L611.0 187.7L609.7 189.8L608.4 191.9L607.0 194.0L605.7 196.1L604.3 198.2L602.9 200.3L601.5 202.4L600.1 204.5L598.7 206.5L597.3 208.6L595.8 210.6L594.3 212.7L592.9 214.7L591.4 216.7L589.9 218.8L588.4 220.8L586.9 222.8L585.3 224.8L583.8 226.7L582.2 228.7L580.7 230.7L579.1 232.6L577.5 234.6L575.9 236.5L574.3 238.5L572.7 240.4L571.0 242.3L569.4 244.2L567.7 246.1L566.1 248.0L564.4 249.9L562.7 251.8L561.0 253.6L559.3 255.5L557.5 257.4L555.8 259.2L554.1 261.0L552.3 262.8L550.6 264.7L548.8 266.5L547.0 268.2L545.2 270.0L543.4 271.8L541.6 273.6L539.8 275.3L537.9 277.0L536.1 278.8L534.2 280.5L532.4 282.2L530.5 283.9L528.6 285.5L526.8 287.2L524.9 288.8L523.0 290.5L521.0 292.1L519.1 293.7L517.2 295.3L515.3 296.9L513.3 298.5L511.3 300.0L509.4 301.6L507.4 303.1L505.4 304.6L503.4 306.1L501.5 307.6L499.5 309.1L497.4 310.5L495.4 312.0L493.4 313.4L491.4 314.9L489.4 316.3L487.4 317.7L485.3 319.2L483.3 320.6L481.3 322.0L479.3 323.5L477.2 324.9L475.2 326.3L473.2 327.8L471.2 329.3L469.2 330.7L467.2 332.2L465.2 333.7L463.2 335.2L461.2 336.8L459.3 338.3L457.3 339.9L455.4 341.5L453.4 343.1L451.5 344.7L449.6 346.4L447.7 348.0L445.8 349.7L443.9 351.4L442.0 353.2L440.1 354.9L438.3 356.6L436.4 358.4L434.5 360.1L432.7 361.9L430.8 363.7L429.0 365.4L427.1 367.2L425.3 369.0L423.4 370.8L421.5 372.5L419.7 374.3L417.8 376.0L416.0 377.8L414.1 379.5L412.2 381.2L410.3 382.9L408.4 384.6L406.5 386.3L404.6 387.9L402.7 389.6L400.8 391.2L398.8 392.8L396.9 394.3L394.9 395.9L392.9 397.4L390.9 398.8L388.9 400.3L386.9 401.7L384.8 403.1L382.8 404.4L380.7 405.7L378.6 407.0L376.5 408.2L374.3 409.4L372.2 410.5L370.0 411.6L367.8 412.6L365.5 413.6L363.3 414.6L361.0 415.4L358.7 416.3L356.4 417.0L354.0 417.8L351.6 418.4L349.2 419.0L346.7 419.6L344.2 420.0L341.7 420.4L339.2 420.8L336.7 421.1L334.1 421.3L331.6 421.5L329.0 421.6L326.4 421.6L323.8 421.6L321.2 421.5L318.7 421.3L316.1 421.1L313.5 420.8L310.9 420.5L308.4 420.1L305.9 419.6L303.3 419.1L300.8 418.4L298.4 417.8L295.9 417.0L293.5 416.2L291.1 415.4L288.7 414.4L286.4 413.5L284.1 412.4L281.9 411.3L279.7 410.1L277.6 408.8L275.5 407.5L273.4 406.1L271.4 404.6L269.5 403.1L267.6 401.5L265.8 399.8L264.1 398.1L262.4 396.3L260.8 394.4L259.3 392.5L257.8 390.5L256.5 388.4L255.2 386.3L254.0 384.1L252.8 381.8L251.7 379.6L250.6 377.2L249.6 374.9L248.6 372.5L247.6 370.1L246.6 367.7L245.7 365.3L244.7 362.8L243.8 360.4L242.9 358.0L241.9 355.6L240.9 353.3L239.9 351.0L238.9 348.7L237.8 346.4L236.6 344.2L235.4 342.0L234.2 339.9L232.9 337.9L231.5 336.0L230.0 334.1L228.4 332.3L226.8 330.6L225.0 329.0L223.2 327.5L221.3 326.1L219.3 324.8L217.2 323.7L215.0 322.6L212.8 321.6L210.5 320.7L208.2 319.9L205.8 319.2L203.4 318.5L200.9 318.0L198.4 317.5L195.9 317.1L193.4 316.7L190.8 316.5L188.2 316.2L185.6 316.1L183.0 316.0L180.4 315.9L177.8 315.9L175.1 315.9L172.5 316.0L169.9 316.1L167.3 316.2L164.7 316.4L162.2 316.6L159.6 316.8L157.1 317.1L154.7 317.3L152.2 317.6L149.8 317.9L147.3 318.2L144.9 318.5L142.5 318.8L140.1 319.1L137.7 319.5L135.3 319.8L132.8 320.2L130.4 320.6L127.9 321.0L125.4 321.3L122.9 321.7L120.4 322.1L117.8 322.5L117.8 315.0" stroke="#b57fe0" stroke-width="2.65" stroke-linecap="butt" stroke-dasharray="6 3.9"/>
<path d="M117.8 315.5L120.1 314.5L122.4 313.4L124.7 312.4L127.0 311.5L129.3 310.5L131.7 309.5L134.0 308.6L136.3 307.6L138.7 306.7L141.0 305.8L143.4 304.9L145.7 304.1L148.1 303.2L150.4 302.3L152.8 301.5L155.2 300.7L157.6 299.9L159.9 299.1L162.3 298.3L164.7 297.6L167.1 296.8L169.5 296.1L171.9 295.4L174.3 294.7L176.8 294.0L179.2 293.3L181.6 292.6L184.0 292.0L186.4 291.4L188.9 290.7L191.3 290.1L193.8 289.5L196.2 289.0L198.6 288.4L201.1 287.8L203.6 287.3L206.0 286.8L208.5 286.3L210.9 285.8L213.4 285.3L215.9 284.8L218.3 284.3L220.8 283.9L223.3 283.5L225.8 283.1L228.3 282.6L230.7 282.3L233.2 281.9L235.7 281.5L238.2 281.2L240.7 280.8L243.2 280.5L245.7 280.1L248.2 279.8L250.7 279.5L253.2 279.2L255.7 278.9L258.2 278.7L260.7 278.4L263.2 278.1L265.7 277.9L268.3 277.6L270.8 277.3L273.3 277.1L275.8 276.9L278.3 276.6L280.8 276.4L283.3 276.1L285.8 275.9L288.3 275.7L290.9 275.4L293.4 275.2L295.9 274.9L298.4 274.7L300.9 274.5L303.4 274.2L305.9 274.0L308.4 273.7L310.9 273.4L313.4 273.2L315.9 272.9L318.4 272.6L320.9 272.4L323.4 272.1L325.9 271.8L328.4 271.5L330.9 271.1L333.4 270.8L335.9 270.5L338.4 270.1L340.9 269.8L343.4 269.4L345.8 269.0L348.3 268.6L350.8 268.2L353.2 267.8L355.7 267.4L358.2 266.9L360.6 266.4L363.1 266.0L365.5 265.4L368.0 264.9L370.4 264.3L372.8 263.6L375.2 262.9L377.5 262.1L379.8 261.3L382.1 260.3L384.4 259.3L386.6 258.2L388.8 257.0L391.0 255.8L393.1 254.5L395.2 253.1L397.3 251.7L399.3 250.2L401.4 248.7L403.3 247.2L405.3 245.6L407.2 244.0L409.1 242.4L411.0 240.7L412.8 239.0L414.7 237.3L416.5 235.6L418.2 233.8L420.0 232.0L421.7 230.2L423.4 228.4L425.1 226.6L426.7 224.7L428.4 222.9L430.0 221.0L431.6 219.1L433.2 217.1L434.8 215.2L436.3 213.2L437.9 211.3L439.4 209.3L440.9 207.3L442.4 205.3L443.9 203.2L445.4 201.2L446.9 199.2L448.4 197.1L449.8 195.1L451.3 193.0L452.7 190.9L454.2 188.8L455.6 186.7L457.0 184.7L458.4 182.6L459.9 180.5L461.3 178.4L462.7 176.3L464.1 174.2L465.6 172.1L467.0 170.0L468.4 167.9L469.8 165.8L471.3 163.7L472.7 161.6L474.2 159.5L475.6 157.4L477.1 155.3L478.5 153.2L480.0 151.2L481.5 149.1L483.0 147.1L484.5 145.0L486.0 143.0L487.5 141.0L489.0 139.0L490.6 137.0L492.1 135.0L493.7 133.0L495.3 131.0L496.9 129.0L498.5 127.1L500.1 125.1L501.7 123.2L503.3 121.3L504.9 119.4L506.6 117.5L508.3 115.6L509.9 113.7L511.6 111.8L513.3 110.0L515.0 108.1L516.7 106.3L518.5 104.5L520.2 102.7L522.0 100.9L523.8 99.1L525.5 97.4L527.3 95.6L529.1 93.9L531.0 92.2L532.8 90.5L534.7 88.8L536.5 87.1L538.4 85.4L540.3 83.8L542.2 82.2L544.1 80.6L546.0 79.0L548.0 77.4L549.9 75.8L551.9 74.3L553.9 72.8L555.9 71.3L557.9 69.8L559.9 68.3L562.0 66.8L564.0 65.4L566.1 64.0L568.2 62.6L570.3 61.2L572.4 59.9L574.5 58.5L576.7 57.2L578.8 55.9L581.0 54.6L583.2 53.4L585.4 52.2L587.6 51.0L589.8 49.8L592.0 48.6L594.3 47.5L596.5 46.4L598.8 45.3L601.1 44.3L603.4 43.2L605.7 42.2L608.0 41.2L610.3 40.3L612.6 39.4L615.0 38.5L617.3 37.6L619.7 36.8L622.1 35.9L624.5 35.2L626.9 34.4L629.3 33.7L631.7 33.0L634.1 32.3L636.6 31.7L639.0 31.1L641.5 30.5L643.9 30.0L646.4 29.5L648.9 29.0L651.4 28.6L653.9 28.2L656.4 27.8L658.9 27.5L659.4 30.1L659.9 32.7L660.4 35.4L661.0 38.0L661.6 40.6L662.2 43.2L662.8 45.8L663.4 48.4L663.9 51.0L664.5 53.6L665.0 56.2L665.5 58.8L666.0 61.4L666.4 64.0L666.8 66.7L667.1 69.3L667.3 72.0L667.1 74.6L666.7 77.1L666.2 79.5L665.5 81.9L664.7 84.3L663.9 86.6L663.0 89.0L661.9 91.2L660.9 93.5L659.8 95.7L658.6 98.0L657.5 100.2L656.3 102.4L655.2 104.7L654.0 106.9L652.9 109.1L651.8 111.4L650.7 113.6L649.5 115.9L648.4 118.1L647.3 120.3L646.2 122.6L645.1 124.8L644.0 127.1L642.9 129.3L641.8 131.6L640.7 133.8L639.6 136.1L638.5 138.3L637.4 140.5L636.3 142.8L635.1 145.0L634.0 147.3L632.8 149.5L631.7 151.7L630.5 154.0L629.4 156.2L628.2 158.4L627.0 160.6L625.9 162.9L624.7 165.1L623.5 167.3L622.3 169.5L621.0 171.7L619.8 173.9L618.6 176.1L617.3 178.3L616.1 180.5L614.8 182.6L613.5 184.8L612.3 187.0L611.0 189.1L609.7 191.3L608.3 193.4L607.0 195.5L605.7 197.7L604.3 199.8L603.0 201.9L601.6 204.0L600.2 206.1L598.8 208.2L597.4 210.3L596.0 212.3L594.5 214.4L593.1 216.4L591.6 218.5L590.2 220.5L588.7 222.5L587.2 224.5L585.6 226.5L584.1 228.5L582.6 230.4L581.0 232.4L579.4 234.3L577.8 236.3L576.2 238.2L574.6 240.1L572.9 242.0L571.3 243.9L569.6 245.8L568.0 247.6L566.3 249.5L564.6 251.3L562.8 253.2L561.1 255.0L559.4 256.8L557.6 258.6L555.9 260.4L554.1 262.2L552.3 264.0L550.6 265.7L548.8 267.5L547.0 269.2L545.1 271.0L543.3 272.7L541.5 274.4L539.6 276.2L537.8 277.9L536.0 279.6L534.1 281.3L532.2 283.0L530.4 284.6L528.5 286.3L526.6 288.0L524.7 289.7L522.8 291.3L520.9 293.0L519.0 294.6L517.1 296.2L515.2 297.9L513.3 299.5L511.4 301.1L509.4 302.7L507.5 304.4L505.6 306.0L503.7 307.6L501.7 309.2L499.8 310.8L497.9 312.3L495.9 313.9L494.0 315.5L492.1 317.1L490.1 318.7L488.2 320.3L486.2 321.8L484.3 323.4L482.4 325.0L480.4 326.5L478.5 328.1L476.5 329.7L474.6 331.2L472.7 332.8L470.7 334.4L468.8 335.9L466.8 337.5L464.9 339.0L462.9 340.6L461.0 342.2L459.1 343.7L457.1 345.3L455.2 346.9L453.2 348.4L451.3 350.0L449.4 351.6L447.4 353.2L445.5 354.7L443.5 356.3L441.6 357.9L439.7 359.5L437.7 361.1L435.8 362.7L433.9 364.3L431.9 365.9L430.0 367.5L428.1 369.1L426.2 370.7L424.3 372.4L422.3 374.0L420.4 375.6L418.5 377.3L416.6 378.9L414.7 380.6L412.8 382.2L410.9 383.9L409.0 385.6L407.1 387.3L405.2 389.0L403.3 390.7L401.4 392.4L399.5 394.1L397.6 395.8L395.7 397.5L393.8 399.2L391.9 400.9L390.0 402.5L388.1 404.2L386.1 405.8L384.2 407.4L382.2 409.0L380.2 410.5L378.3 412.0L376.2 413.5L374.2 414.9L372.1 416.3L370.1 417.6L368.0 418.9L365.8 420.1L363.6 421.2L361.4 422.3L359.2 423.3L357.0 424.2L354.7 425.1L352.3 425.9L349.9 426.6L347.5 427.2L345.1 427.7L342.6 428.2L340.1 428.5L337.5 428.8L335.0 429.0L332.4 429.1L329.8 429.2L327.2 429.1L324.7 429.0L322.1 428.9L319.5 428.6L316.9 428.3L314.4 427.9L311.8 427.4L309.3 426.9L306.8 426.3L304.4 425.7L301.9 424.9L299.5 424.1L297.1 423.3L294.7 422.4L292.4 421.4L290.1 420.3L287.9 419.2L285.6 418.0L283.5 416.8L281.3 415.5L279.2 414.2L277.2 412.7L275.2 411.3L273.2 409.7L271.3 408.2L269.5 406.5L267.7 404.8L266.0 403.1L264.3 401.3L262.7 399.4L261.1 397.5L259.6 395.5L258.2 393.5L256.8 391.4L255.6 389.3L254.3 387.1L253.2 384.9L252.1 382.6L251.1 380.3L250.2 377.9L249.3 375.5L248.5 373.1L247.7 370.6L246.9 368.2L246.1 365.7L245.3 363.3L244.5 360.8L243.7 358.4L242.8 355.9L241.9 353.5L240.9 351.2L239.9 348.9L238.8 346.6L237.6 344.4L236.4 342.2L235.0 340.1L233.6 338.1L232.1 336.2L230.5 334.3L228.9 332.5L227.1 330.8L225.3 329.2L223.4 327.7L221.4 326.3L219.4 325.0L217.2 323.9L215.0 322.8L212.7 321.8L210.3 321.0L207.9 320.2L205.5 319.5L203.0 318.9L200.4 318.4L197.9 317.9L195.3 317.5L192.7 317.2L190.1 316.9L187.5 316.7L185.0 316.5L182.4 316.4L179.8 316.3L177.3 316.2L174.8 316.2L172.3 316.2L169.8 316.3L167.3 316.3L164.8 316.5L162.3 316.6L159.9 316.8L157.4 317.0L155.0 317.2L152.5 317.4L150.0 317.7L147.6 318.0L145.1 318.3L142.7 318.6L140.2 319.0L137.8 319.3L135.3 319.7L132.8 320.1L130.3 320.5L127.9 320.9L125.4 321.3L122.9 321.7L120.3 322.1L117.8 322.5L117.8 315.5" stroke="#c9a227" stroke-width="3.0" stroke-linecap="round" stroke-dasharray="0.2 4"/>
<path d="M117.8 314.0L119.9 312.6L122.0 311.2L124.1 309.8L126.3 308.6L128.5 307.3L130.7 306.2L132.9 305.0L135.2 304.0L137.5 302.9L139.7 301.9L142.1 301.0L144.4 300.1L146.7 299.2L149.1 298.3L151.4 297.5L153.8 296.7L156.2 296.0L158.6 295.3L161.1 294.6L163.5 293.9L165.9 293.2L168.4 292.6L170.8 292.0L173.3 291.4L175.7 290.8L178.2 290.3L180.6 289.7L183.1 289.2L185.6 288.6L188.0 288.1L190.5 287.6L193.0 287.1L195.4 286.5L197.9 286.0L200.4 285.5L202.8 285.1L205.3 284.6L207.7 284.1L210.2 283.6L212.7 283.2L215.1 282.7L217.6 282.2L220.1 281.8L222.5 281.4L225.0 280.9L227.5 280.5L229.9 280.1L232.4 279.6L234.9 279.2L237.3 278.8L239.8 278.4L242.3 278.0L244.7 277.7L247.2 277.3L249.7 276.9L252.2 276.5L254.6 276.2L257.1 275.8L259.6 275.5L262.1 275.1L264.6 274.8L267.0 274.4L269.5 274.1L272.0 273.8L274.5 273.5L277.0 273.1L279.5 272.8L282.0 272.5L284.5 272.2L287.0 271.9L289.5 271.7L292.0 271.4L294.5 271.1L297.0 270.8L299.5 270.6L302.0 270.3L304.5 270.0L307.0 269.8L309.6 269.6L312.1 269.3L314.6 269.1L317.1 268.8L319.7 268.6L322.2 268.4L324.7 268.2L327.3 268.0L329.8 267.8L332.4 267.6L334.9 267.4L337.5 267.2L340.0 267.0L342.6 266.7L345.1 266.5L347.6 266.3L350.2 266.0L352.7 265.7L355.2 265.4L357.7 265.1L360.2 264.7L362.7 264.3L365.1 263.9L367.6 263.4L370.0 262.8L372.4 262.3L374.8 261.6L377.1 260.9L379.4 260.2L381.7 259.3L384.0 258.5L386.3 257.5L388.5 256.5L390.7 255.5L392.9 254.3L395.0 253.2L397.2 252.0L399.3 250.7L401.3 249.4L403.4 248.0L405.4 246.6L407.4 245.1L409.4 243.6L411.4 242.1L413.3 240.5L415.3 238.9L417.2 237.3L419.0 235.6L420.9 233.9L422.7 232.2L424.5 230.4L426.3 228.6L428.1 226.8L429.9 225.0L431.6 223.2L433.3 221.3L435.0 219.4L436.7 217.5L438.4 215.6L440.0 213.7L441.6 211.8L443.2 209.9L444.8 207.9L446.4 206.0L448.0 204.0L449.5 202.0L451.1 200.0L452.6 198.1L454.1 196.1L455.6 194.1L457.1 192.0L458.6 190.0L460.1 188.0L461.6 186.0L463.1 184.0L464.5 181.9L466.0 179.9L467.5 177.8L468.9 175.8L470.4 173.7L471.8 171.7L473.3 169.6L474.7 167.5L476.2 165.5L477.6 163.4L479.1 161.3L480.6 159.3L482.0 157.2L483.5 155.1L484.9 153.1L486.4 151.0L487.9 148.9L489.4 146.9L490.8 144.8L492.3 142.8L493.8 140.7L495.3 138.7L496.8 136.6L498.3 134.6L499.8 132.5L501.3 130.5L502.9 128.5L504.4 126.5L505.9 124.5L507.5 122.5L509.0 120.5L510.6 118.5L512.2 116.5L513.7 114.5L515.3 112.6L516.9 110.6L518.6 108.7L520.2 106.8L521.8 104.9L523.5 103.0L525.1 101.1L526.8 99.2L528.5 97.4L530.2 95.5L531.9 93.7L533.6 91.9L535.3 90.1L537.1 88.3L538.9 86.6L540.6 84.8L542.4 83.1L544.3 81.4L546.1 79.7L547.9 78.0L549.8 76.4L551.7 74.7L553.6 73.1L555.5 71.5L557.4 70.0L559.4 68.4L561.4 66.9L563.4 65.4L565.4 63.9L567.4 62.4L569.4 61.0L571.5 59.6L573.5 58.1L575.6 56.8L577.7 55.4L579.8 54.1L581.9 52.7L584.1 51.4L586.2 50.1L588.4 48.9L590.6 47.6L592.8 46.4L595.0 45.2L597.2 44.0L599.4 42.8L601.6 41.7L603.9 40.5L606.2 39.4L608.4 38.3L610.7 37.3L613.0 36.2L615.3 35.2L617.6 34.1L619.9 33.1L622.2 32.2L624.6 31.2L626.9 30.2L629.2 29.3L631.6 28.4L633.9 27.5L636.3 26.6L638.7 25.8L641.1 24.9L643.4 24.1L645.8 23.3L648.2 22.5L650.6 21.7L653.0 21.0L655.4 20.2L657.8 19.5L660.2 18.8L662.7 18.1L665.1 17.5L667.5 16.8L667.1 19.3L666.7 21.8L666.3 24.2L665.8 26.7L665.4 29.2L664.9 31.6L664.4 34.1L663.9 36.6L663.4 39.0L662.8 41.5L662.3 43.9L661.7 46.3L661.1 48.8L660.6 51.2L659.9 53.7L659.3 56.1L658.7 58.5L658.0 60.9L657.4 63.4L656.7 65.8L656.0 68.2L655.3 70.6L654.5 73.0L653.8 75.4L653.0 77.8L652.3 80.2L651.5 82.5L650.7 84.9L649.9 87.3L649.1 89.7L648.2 92.0L647.4 94.4L646.5 96.8L645.6 99.1L644.7 101.5L643.8 103.8L642.9 106.1L642.0 108.5L641.0 110.8L640.1 113.1L639.1 115.4L638.1 117.7L637.1 120.0L636.1 122.3L635.1 124.6L634.1 126.9L633.0 129.2L632.0 131.5L630.9 133.8L629.8 136.0L628.7 138.3L627.6 140.6L626.5 142.8L625.3 145.0L624.2 147.3L623.0 149.5L621.8 151.7L620.7 154.0L619.5 156.2L618.2 158.4L617.0 160.6L615.8 162.8L614.6 165.0L613.3 167.1L612.0 169.3L610.7 171.5L609.5 173.6L608.2 175.8L606.8 177.9L605.5 180.1L604.2 182.2L602.8 184.3L601.5 186.5L600.1 188.6L598.7 190.7L597.3 192.8L595.9 194.9L594.5 196.9L593.1 199.0L591.7 201.1L590.2 203.1L588.8 205.2L587.3 207.2L585.8 209.3L584.3 211.3L582.8 213.3L581.3 215.3L579.8 217.3L578.3 219.3L576.8 221.3L575.2 223.3L573.7 225.3L572.1 227.2L570.5 229.2L568.9 231.1L567.3 233.1L565.7 235.0L564.1 236.9L562.5 238.9L560.9 240.8L559.2 242.7L557.6 244.5L555.9 246.4L554.2 248.3L552.5 250.2L550.9 252.0L549.2 253.8L547.5 255.7L545.7 257.5L544.0 259.3L542.3 261.1L540.5 262.9L538.8 264.7L537.0 266.5L535.2 268.3L533.5 270.0L531.7 271.8L529.9 273.5L528.1 275.2L526.3 277.0L524.4 278.7L522.6 280.4L520.8 282.1L518.9 283.7L517.1 285.4L515.2 287.1L513.3 288.7L511.4 290.4L509.5 292.0L507.6 293.6L505.7 295.2L503.8 296.9L501.9 298.5L500.0 300.0L498.1 301.6L496.1 303.2L494.2 304.8L492.2 306.4L490.3 307.9L488.3 309.5L486.4 311.0L484.4 312.6L482.5 314.1L480.5 315.7L478.5 317.2L476.6 318.8L474.6 320.3L472.6 321.9L470.6 323.4L468.7 324.9L466.7 326.5L464.7 328.0L462.7 329.6L460.8 331.1L458.8 332.7L456.8 334.2L454.8 335.8L452.9 337.3L450.9 338.9L448.9 340.5L447.0 342.1L445.0 343.6L443.1 345.2L441.1 346.8L439.2 348.4L437.2 350.0L435.3 351.6L433.4 353.3L431.4 354.9L429.5 356.5L427.6 358.2L425.7 359.9L423.8 361.5L421.9 363.2L420.0 364.9L418.1 366.6L416.3 368.3L414.4 370.1L412.6 371.8L410.7 373.6L408.9 375.3L407.0 377.1L405.2 378.8L403.3 380.6L401.5 382.4L399.7 384.1L397.8 385.9L396.0 387.6L394.1 389.3L392.3 391.0L390.4 392.7L388.5 394.4L386.6 396.1L384.7 397.7L382.8 399.3L380.9 400.9L379.0 402.5L377.0 404.0L375.0 405.5L373.0 407.0L371.0 408.4L369.0 409.8L366.9 411.2L364.9 412.5L362.7 413.8L360.6 415.0L358.4 416.2L356.3 417.3L354.0 418.4L351.8 419.4L349.5 420.3L347.2 421.2L344.8 422.1L342.4 422.8L340.0 423.5L337.5 424.2L335.0 424.8L332.5 425.3L330.0 425.7L327.4 426.0L324.8 426.3L322.2 426.5L319.6 426.7L317.0 426.7L314.4 426.7L311.8 426.6L309.2 426.5L306.7 426.2L304.1 425.9L301.6 425.5L299.1 425.0L296.7 424.4L294.3 423.7L291.9 423.0L289.6 422.1L287.3 421.2L285.1 420.2L282.9 419.1L280.7 418.0L278.6 416.8L276.6 415.5L274.6 414.1L272.6 412.7L270.7 411.2L268.8 409.6L266.9 408.0L265.1 406.3L263.4 404.6L261.6 402.8L260.0 401.0L258.3 399.1L256.7 397.1L255.2 395.1L253.7 393.1L252.2 391.0L250.8 388.9L249.4 386.7L248.1 384.6L246.8 382.3L245.5 380.1L244.3 377.8L243.1 375.5L242.0 373.1L240.9 370.8L239.9 368.4L238.9 366.0L237.9 363.6L237.0 361.1L236.1 358.7L235.2 356.2L234.4 353.7L233.6 351.3L232.8 348.8L232.0 346.4L231.2 344.0L230.4 341.7L229.5 339.4L228.5 337.2L227.5 335.0L226.4 332.9L225.1 331.0L223.8 329.1L222.3 327.3L220.7 325.7L219.0 324.2L217.1 322.8L215.1 321.5L213.0 320.3L210.8 319.3L208.4 318.3L206.1 317.4L203.6 316.7L201.1 316.0L198.6 315.4L196.0 314.8L193.4 314.4L190.7 314.0L188.1 313.7L185.5 313.4L182.9 313.2L180.3 313.0L177.7 312.9L175.2 312.8L172.6 312.8L170.1 312.8L167.6 312.8L165.1 312.9L162.6 313.0L160.1 313.1L157.6 313.3L155.1 313.5L152.7 313.7L150.2 313.9L147.7 314.1L145.3 314.4L142.8 314.6L140.3 314.9L137.9 315.1L135.4 315.4L132.9 315.7L130.4 315.9L127.9 316.2L125.4 316.4L122.9 316.6L120.3 316.8L117.8 317.0L118.2 314.0" stroke="#1fc3c8" stroke-width="3.25" stroke-linecap="butt" stroke-dasharray="8 3.5 2.5 3.5"/>
<path d="M124.5 322.3L118 326.6V321.5" stroke="#e8494b" stroke-width="2.6"/>
<path d="M124.5 321.3L118 323.6V318.5" stroke="#1f6fe0" stroke-width="2.6"/>
<path d="M125 319.8L118 320.6V316" stroke="#3ba86c" stroke-width="2.8"/>
<path d="M127 317.6L118 316.2V314.5" stroke="#1fc3c8" stroke-width="3.2"/>
<path d="M117.8 313.5L119.7 311.8L121.7 310.3L123.7 308.8L125.7 307.3L127.8 306.0L129.9 304.7L132.0 303.5L134.2 302.4L136.4 301.3L138.7 300.3L141.0 299.3L143.3 298.4L145.6 297.5L147.9 296.7L150.3 295.9L152.7 295.1L155.1 294.4L157.5 293.7L159.9 293.0L162.3 292.4L164.8 291.7L167.2 291.1L169.7 290.5L172.2 290.0L174.6 289.4L177.1 288.9L179.6 288.4L182.1 287.9L184.6 287.4L187.1 286.9L189.6 286.4L192.1 286.0L194.6 285.5L197.1 285.1L199.6 284.6L202.1 284.2L204.6 283.8L207.1 283.4L209.6 283.0L212.1 282.6L214.6 282.1L217.1 281.7L219.5 281.3L222.0 280.9L224.5 280.5L227.0 280.1L229.4 279.7L231.9 279.3L234.3 278.9L236.8 278.5L239.3 278.1L241.7 277.7L244.2 277.4L246.6 277.0L249.1 276.6L251.5 276.2L254.0 275.9L256.4 275.5L258.9 275.1L261.3 274.8L263.8 274.4L266.2 274.0L268.7 273.7L271.2 273.3L273.6 273.0L276.1 272.7L278.5 272.3L281.0 272.0L283.5 271.7L285.9 271.4L288.4 271.0L290.9 270.7L293.4 270.4L295.8 270.1L298.3 269.8L300.8 269.6L303.3 269.3L305.8 269.0L308.3 268.7L310.8 268.5L313.3 268.2L315.9 268.0L318.4 267.7L320.9 267.5L323.5 267.2L326.0 267.0L328.5 266.8L331.1 266.6L333.7 266.4L336.2 266.2L338.8 266.0L341.4 265.8L344.0 265.5L346.5 265.3L349.1 265.1L351.7 264.8L354.2 264.6L356.8 264.3L359.3 264.0L361.8 263.7L364.4 263.3L366.9 262.9L369.3 262.5L371.8 262.0L374.3 261.5L376.7 261.0L379.1 260.4L381.5 259.7L383.8 259.0L386.2 258.3L388.5 257.5L390.8 256.6L393.0 255.7L395.2 254.7L397.4 253.6L399.6 252.5L401.7 251.4L403.8 250.1L405.8 248.9L407.9 247.5L409.9 246.1L411.8 244.7L413.8 243.2L415.7 241.7L417.6 240.1L419.5 238.5L421.4 236.8L423.2 235.1L425.0 233.4L426.8 231.7L428.6 229.9L430.3 228.0L432.0 226.2L433.8 224.3L435.5 222.4L437.1 220.5L438.8 218.5L440.5 216.6L442.1 214.6L443.7 212.6L445.3 210.6L446.9 208.6L448.5 206.5L450.1 204.5L451.6 202.5L453.2 200.4L454.7 198.4L456.2 196.3L457.8 194.3L459.3 192.2L460.8 190.2L462.3 188.1L463.8 186.1L465.3 184.0L466.8 182.0L468.3 180.0L469.7 177.9L471.2 175.9L472.7 173.9L474.2 171.8L475.6 169.8L477.1 167.8L478.6 165.8L480.0 163.7L481.5 161.7L483.0 159.7L484.4 157.7L485.9 155.7L487.4 153.7L488.8 151.7L490.3 149.7L491.8 147.7L493.3 145.7L494.7 143.7L496.2 141.7L497.7 139.7L499.2 137.7L500.7 135.7L502.2 133.8L503.7 131.8L505.3 129.8L506.8 127.8L508.3 125.9L509.9 123.9L511.4 122.0L513.0 120.0L514.6 118.1L516.2 116.1L517.8 114.2L519.4 112.3L521.0 110.3L522.6 108.4L524.3 106.5L525.9 104.6L527.6 102.7L529.3 100.8L531.0 98.9L532.7 97.0L534.4 95.1L536.1 93.3L537.9 91.4L539.6 89.6L541.4 87.8L543.2 86.0L545.0 84.2L546.8 82.4L548.7 80.7L550.5 78.9L552.4 77.2L554.2 75.5L556.1 73.9L558.0 72.2L560.0 70.6L561.9 68.9L563.9 67.4L565.8 65.8L567.8 64.2L569.8 62.7L571.8 61.2L573.9 59.8L575.9 58.3L578.0 56.9L580.1 55.5L582.2 54.2L584.3 52.9L586.4 51.6L588.6 50.3L590.8 49.1L592.9 47.9L595.2 46.8L597.4 45.6L599.6 44.5L601.9 43.5L604.2 42.5L606.5 41.5L608.8 40.5L611.1 39.5L613.4 38.6L615.7 37.7L618.1 36.8L620.4 35.9L622.8 35.1L625.2 34.2L627.5 33.4L629.9 32.6L632.3 31.7L634.7 30.9L637.1 30.1L639.4 29.3L641.8 28.4L644.2 27.6L646.6 26.8L649.0 25.9L651.3 25.1L653.7 24.2L656.1 23.4L658.4 22.5L660.7 21.6L663.1 20.6L665.4 19.7L667.7 18.7L667.4 21.2L667.1 23.7L666.8 26.3L666.4 28.8L666.0 31.3L665.6 33.8L665.2 36.2L664.7 38.7L664.3 41.2L663.8 43.6L663.2 46.1L662.7 48.5L662.1 51.0L661.5 53.4L660.9 55.8L660.3 58.3L659.6 60.7L659.0 63.1L658.3 65.5L657.6 67.9L656.8 70.3L656.1 72.6L655.3 75.0L654.5 77.4L653.7 79.8L652.9 82.1L652.1 84.5L651.2 86.8L650.4 89.2L649.5 91.5L648.6 93.9L647.7 96.2L646.7 98.5L645.8 100.8L644.9 103.2L643.9 105.5L642.9 107.8L641.9 110.1L640.9 112.4L639.9 114.7L638.9 117.0L637.9 119.3L636.8 121.5L635.8 123.8L634.7 126.1L633.7 128.4L632.6 130.7L631.5 132.9L630.4 135.2L629.3 137.5L628.2 139.7L627.1 142.0L626.0 144.2L624.8 146.5L623.7 148.7L622.5 150.9L621.4 153.2L620.2 155.4L619.0 157.6L617.8 159.8L616.6 162.0L615.4 164.3L614.2 166.4L613.0 168.6L611.7 170.8L610.5 173.0L609.2 175.2L607.9 177.3L606.6 179.5L605.3 181.7L604.0 183.8L602.7 185.9L601.4 188.1L600.0 190.2L598.7 192.3L597.3 194.4L595.9 196.5L594.5 198.6L593.1 200.7L591.7 202.8L590.3 204.8L588.8 206.9L587.4 208.9L585.9 210.9L584.4 213.0L583.0 215.0L581.4 217.0L579.9 219.0L578.4 221.0L576.8 222.9L575.3 224.9L573.7 226.9L572.1 228.8L570.5 230.7L568.9 232.6L567.3 234.6L565.7 236.5L564.0 238.3L562.3 240.2L560.7 242.1L559.0 243.9L557.3 245.8L555.6 247.6L553.8 249.5L552.1 251.3L550.4 253.1L548.6 254.9L546.9 256.7L545.1 258.5L543.3 260.2L541.5 262.0L539.7 263.7L537.9 265.5L536.1 267.2L534.3 268.9L532.4 270.6L530.6 272.4L528.7 274.1L526.9 275.7L525.0 277.4L523.1 279.1L521.3 280.8L519.4 282.4L517.5 284.1L515.6 285.7L513.7 287.3L511.8 288.9L509.9 290.6L507.9 292.2L506.0 293.8L504.1 295.4L502.2 297.0L500.2 298.5L498.3 300.1L496.3 301.7L494.4 303.3L492.4 304.8L490.5 306.4L488.5 307.9L486.6 309.5L484.6 311.0L482.6 312.6L480.7 314.1L478.7 315.7L476.7 317.2L474.8 318.8L472.8 320.3L470.8 321.9L468.9 323.4L466.9 324.9L464.9 326.5L463.0 328.0L461.0 329.6L459.0 331.1L457.0 332.7L455.1 334.2L453.1 335.8L451.2 337.4L449.2 338.9L447.2 340.5L445.3 342.1L443.3 343.6L441.4 345.2L439.5 346.8L437.5 348.4L435.6 350.0L433.6 351.6L431.7 353.2L429.8 354.9L427.9 356.5L426.0 358.1L424.1 359.8L422.2 361.5L420.3 363.1L418.4 364.8L416.5 366.5L414.6 368.2L412.7 369.9L410.9 371.6L409.0 373.3L407.2 375.0L405.3 376.8L403.4 378.5L401.6 380.2L399.7 381.9L397.8 383.6L396.0 385.3L394.1 387.0L392.2 388.7L390.3 390.3L388.4 392.0L386.5 393.6L384.6 395.2L382.6 396.8L380.7 398.4L378.7 399.9L376.7 401.4L374.7 402.9L372.7 404.4L370.7 405.8L368.6 407.2L366.5 408.5L364.4 409.9L362.3 411.1L360.1 412.4L358.0 413.6L355.8 414.7L353.5 415.8L351.3 416.9L349.0 417.9L346.6 418.9L344.3 419.8L341.9 420.6L339.5 421.4L337.0 422.1L334.6 422.8L332.1 423.4L329.6 423.9L327.1 424.4L324.6 424.7L322.1 425.0L319.6 425.2L317.0 425.4L314.5 425.4L312.0 425.4L309.5 425.2L307.1 425.0L304.6 424.7L302.2 424.3L299.8 423.8L297.4 423.2L295.0 422.5L292.6 421.8L290.3 420.9L288.0 420.0L285.7 419.0L283.5 418.0L281.3 416.8L279.1 415.6L276.9 414.4L274.8 413.0L272.8 411.6L270.7 410.1L268.7 408.6L266.8 407.0L264.9 405.3L263.0 403.6L261.2 401.8L259.4 400.0L257.7 398.1L256.1 396.2L254.5 394.2L252.9 392.2L251.4 390.1L250.0 387.9L248.6 385.8L247.3 383.5L246.0 381.3L244.8 379.0L243.7 376.7L242.6 374.3L241.6 371.9L240.6 369.5L239.7 367.1L238.8 364.6L237.9 362.2L237.1 359.7L236.2 357.3L235.4 354.9L234.5 352.5L233.6 350.1L232.7 347.7L231.8 345.4L230.8 343.1L229.9 340.8L228.8 338.6L227.7 336.5L226.5 334.4L225.3 332.4L224.0 330.4L222.6 328.5L221.1 326.7L219.5 325.0L217.8 323.4L216.0 321.8L214.1 320.4L212.1 319.1L210.0 317.8L207.9 316.7L205.6 315.7L203.4 314.8L201.0 314.0L198.6 313.3L196.2 312.7L193.7 312.3L191.2 311.9L188.7 311.5L186.1 311.3L183.5 311.1L180.9 311.0L178.3 310.9L175.7 310.9L173.1 311.0L170.4 311.0L167.8 311.1L165.2 311.2L162.6 311.4L160.0 311.5L157.5 311.6L155.0 311.8L152.5 311.9L150.0 312.1L147.5 312.2L145.0 312.4L142.6 312.5L140.1 312.7L137.7 312.8L135.2 313.0L132.8 313.1L130.3 313.2L127.8 313.4L125.3 313.5L122.9 313.7L120.3 313.8L117.8 314.0" stroke="#7d5050" stroke-width="2.65" stroke-linecap="butt"/>
</g>
<g font-family="'Liberation Serif', serif" font-size="29.6" fill="#000" stroke="#000" stroke-width="0.5" stroke-linejoin="round">
<text x="102.6" y="21.6" text-anchor="end">1.0</text>
<text x="102.6" y="70.9" text-anchor="end">0.8</text>
<text x="102.6" y="120.2" text-anchor="end">0.6</text>
<text x="102.6" y="169.5" text-anchor="end">0.4</text>
<text x="102.6" y="218.8" text-anchor="end">0.2</text>
<text x="102.6" y="268.0" text-anchor="end">0.0</text>
<text x="102.6" y="317.3" text-anchor="end">-0.2</text>
<text x="102.6" y="366.6" text-anchor="end">-0.4</text>
<text x="102.6" y="415.9" text-anchor="end">-0.6</text>
<text x="102.6" y="465.2" text-anchor="end">-0.8</text>
<text x="159.6" y="494.3" text-anchor="middle">-0.2</text>
<text x="244.5" y="494.3" text-anchor="middle">0.0</text>
<text x="329.1" y="494.3" text-anchor="middle">0.2</text>
<text x="413.7" y="494.3" text-anchor="middle">0.4</text>
<text x="498.3" y="494.3" text-anchor="middle">0.6</text>
<text x="582.9" y="494.3" text-anchor="middle">0.8</text>
<text x="668.5" y="494.3" text-anchor="middle">1.0</text>
<text x="392.6" y="540.5" text-anchor="middle">Potential/V vs Ag/AgCl</text>
<text transform="translate(30.2 223.2) rotate(-90)" text-anchor="middle" font-size="29.3">Current Density/(mA/cm<tspan font-size="29" dy="-8.8">2</tspan><tspan font-size="24" dy="7.8">)</tspan></text>
</g>
<g font-family="'Liberation Serif', serif" font-size="24.6" fill="#000" stroke="#000" stroke-width="0.45" stroke-linejoin="round">
<path d="M168.3 31H227.2" fill="none" stroke="#505050" stroke-width="2.65" stroke-linecap="butt" stroke-dasharray="12 9.3"/>
<text x="234.2" y="39.8" xml:space="preserve">50 circle</text>
<path d="M170.3 62H227.2" fill="none" stroke="#e8494b" stroke-width="4.4" stroke-linecap="round" stroke-dasharray="1.6 16.3"/>
<text x="234.2" y="70.8" xml:space="preserve">100 circle</text>
<path d="M168.3 93H227.2" fill="none" stroke="#1f6fe0" stroke-width="2.65" stroke-linecap="butt" stroke-dasharray="13.5 5 3 5"/>
<text x="234.2" y="101.8" xml:space="preserve">150 circle</text>
<path d="M168.3 124H227.2" fill="none" stroke="#3ba86c" stroke-width="2.65" stroke-linecap="butt" stroke-dasharray="13.5 4.5 2.6 4.5 2.6 4.5"/>
<text x="234.2" y="132.8" xml:space="preserve">200 circle</text>
<path d="M168.3 155H227.2" fill="none" stroke="#b57fe0" stroke-width="2.65" stroke-linecap="butt" stroke-dasharray="6 3.9"/>
<text x="234.2" y="163.8" xml:space="preserve">250 circle</text>
<path d="M170.3 186H227.2" fill="none" stroke="#c9a227" stroke-width="3.0" stroke-linecap="round" stroke-dasharray="0.2 4"/>
<text x="234.2" y="194.8" xml:space="preserve">300 circle</text>
<path d="M168.3 217H227.2" fill="none" stroke="#1fc3c8" stroke-width="3.25" stroke-linecap="butt" stroke-dasharray="8 3.5 2.5 3.5"/>
<text x="234.2" y="225.8" xml:space="preserve">350 circle</text>
<path d="M168.3 248H227.2" fill="none" stroke="#7d5050" stroke-width="2.65" stroke-linecap="butt"/>
<text x="234.2" y="256.8" xml:space="preserve">400 circle</text>
</g>
</svg>
</body>
</html>
